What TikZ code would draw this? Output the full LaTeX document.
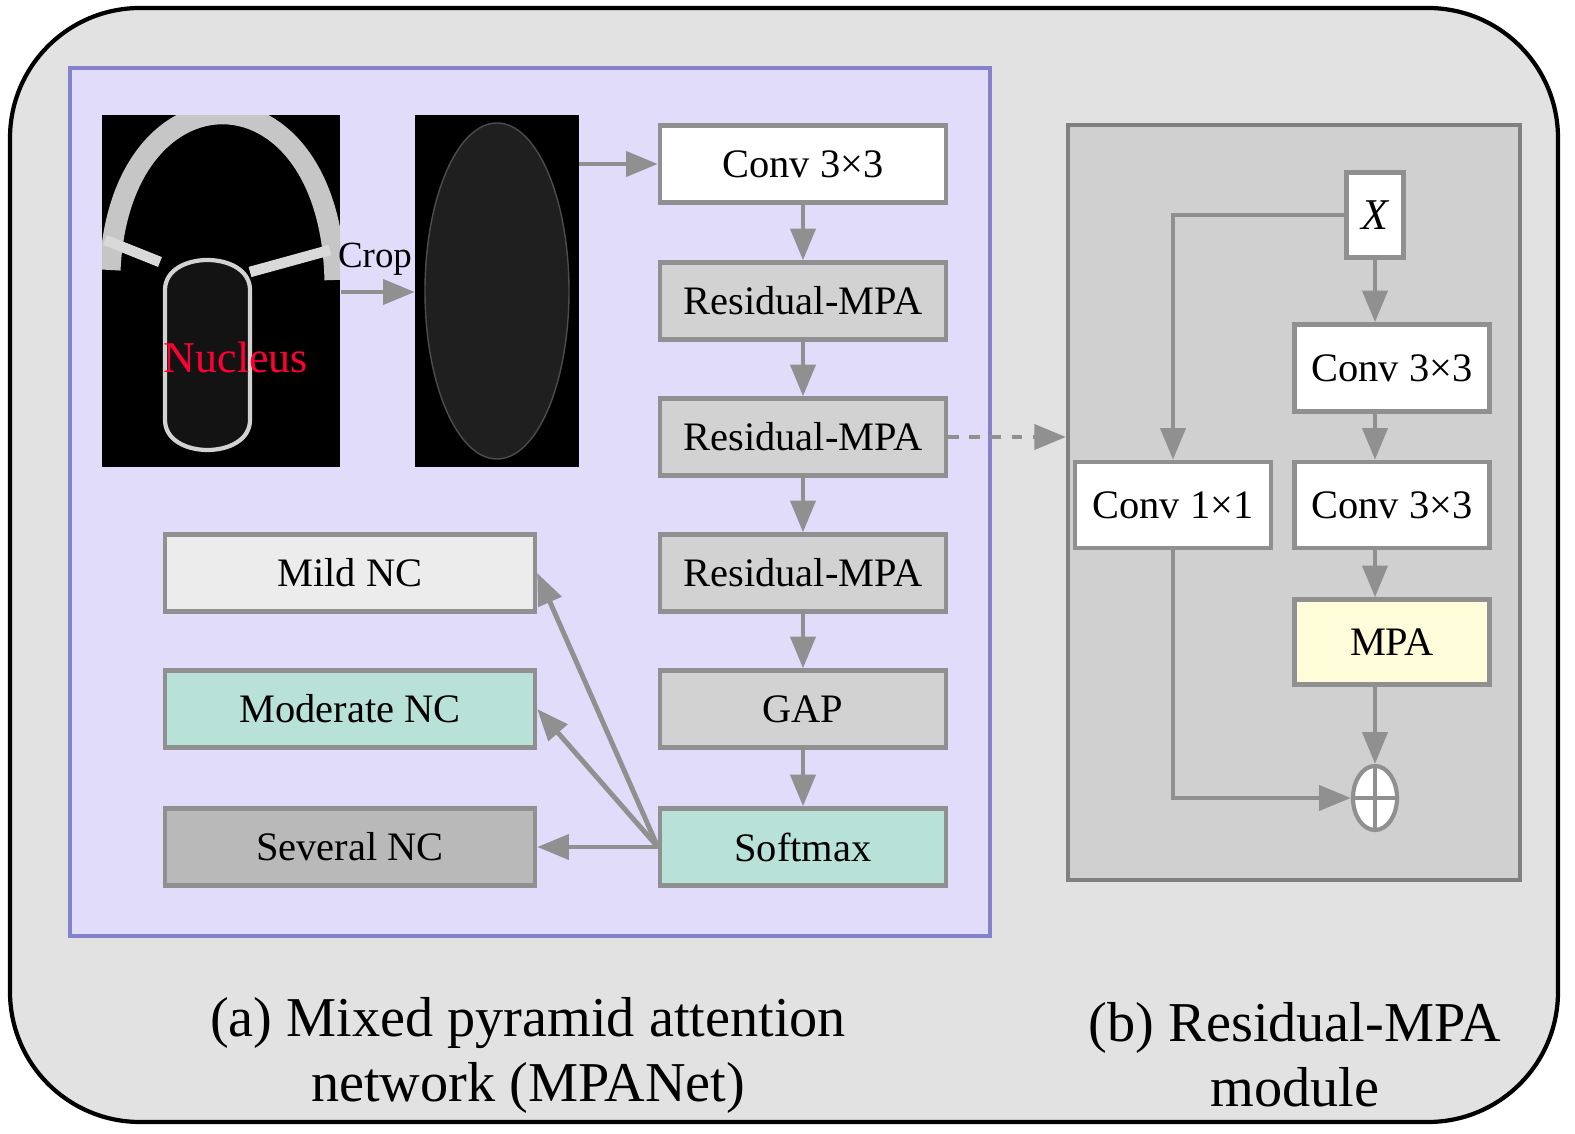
\documentclass[tikz,border=0pt]{standalone}
\usepackage{fontspec}
\setmainfont{Liberation Serif}
\usetikzlibrary{arrows.meta,positioning,shapes.geometric}
\definecolor{panelA}{HTML}{E0DCFA}
\definecolor{panelB}{HTML}{D0D0D0}
\definecolor{outerbg}{HTML}{E2E2E2}
\definecolor{tealbox}{HTML}{B8E2D8}
\definecolor{grybox}{HTML}{D2D2D2}
\definecolor{linegray}{HTML}{909090}
\tikzset{
    %Define standard arrow tip
    >={Triangle[length=9pt,width=7pt]},
    %Define style for boxes
    block/.style={
           rectangle,
           draw=linegray,
           line width=1.2pt,
           minimum width=2.86cm,
           minimum height=0.77cm,
           font=\fontsize{11.5}{11.5}\selectfont,
           text centered},
    cls/.style={block, minimum width=3.7cm},
    % Define arrow style
    arrow/.style={
           ->,
           draw=linegray,
           line width=1.4pt,
           }
}
\begin{document}
\begin{tikzpicture}[x=0.01cm,y=-0.01cm]
    \useasboundingbox (0,0) rectangle (1575,1134);
    % frames
    \draw[line width=1.2pt, fill=outerbg, rounded corners=1.3cm] (10,8) rectangle (1558,1122);
    \draw[draw=panelA!60!blue!60!gray, line width=1pt, fill=panelA] (70,68) rectangle (990,936);
    \draw[draw=gray, line width=1pt, fill=panelB] (1068,125) rectangle (1520,880);

    % images
    \node[fill=black, minimum width=2.38cm, minimum height=3.51cm, inner sep=0pt] (img) at (221,291) {};
    \begin{scope}
        \clip (102,116) rectangle (340,467);
        \draw[gray!45, line width=6pt] (110,270) .. controls (120,60) and (330,60) .. (335,280);
        \draw[gray!30, line width=3pt] (105,240) -- (160,262) (250,272) -- (330,250);
        \draw[gray!35, line width=1.2pt, fill=black!85!gray] (165,290) .. controls (165,250) and (250,250) .. (250,290) -- (250,420) .. controls (250,460) and (165,460) .. (165,420) -- cycle;
    \end{scope}
    \node[text=red!80!magenta, font=\fontsize{12.5}{12.5}\selectfont] (nuc) at (236,357) {Nucleus};
    \node[fill=black, minimum width=1.63cm, minimum height=3.51cm, inner sep=0pt] (crop) at (497,291) {};
    \draw[gray!60!black, fill=black!88!white] (497,291) ellipse (72 and 168);
    \node[font=\fontsize{10.5}{10.5}\selectfont, inner sep=1pt] (croplbl) at (375,259) {Crop};

    % backbone
    \node[block, fill=white] (conv) at (803,164) {Conv 3×3};
    \node[block, fill=grybox] (res1) at (803,301) {Residual-MPA};
    \node[block, fill=grybox] (res2) at (803,437) {Residual-MPA};
    \node[block, fill=grybox] (res3) at (803,573) {Residual-MPA};
    \node[block, fill=grybox] (gap) at (803,709) {GAP};
    \node[block, fill=tealbox] (soft) at (803,847) {Softmax};
    \node[cls, fill=gray!15] (mild) at (350,573) {Mild NC};
    \node[cls, fill=tealbox] (moder) at (350,709) {Moderate NC};
    \node[cls, fill=gray!55] (sev) at (350,847) {Several NC};

    \draw[arrow] (img.east |- 0,292) -- (crop.west |- 0,292);
    \draw[arrow] (crop.east |- conv) -- (conv);
    \foreach \a/\b in {conv/res1, res1/res2, res2/res3, res3/gap, gap/soft}
        \draw[arrow] (\a) -- (\b);
    \draw[arrow] (soft.west) -- (sev.east);
    \draw[arrow] (soft.west) -- (moder.east);
    \draw[arrow] (soft.west) -- (mild.east);
    \draw[arrow, dashed] (res2.east) -- (1066,437);

    % residual module
    \node[block, fill=white, minimum width=0.57cm, minimum height=0.85cm, font=\itshape\fontsize{12.5}{12.5}\selectfont] (x) at (1375,215) {X};
    \node[block, fill=white, minimum width=1.95cm, minimum height=0.87cm] (c3a) at (1392,368) {Conv 3×3};
    \node[block, fill=white, minimum width=1.95cm, minimum height=0.86cm] (c3b) at (1392,505) {Conv 3×3};
    \node[block, fill=yellow!15, minimum width=1.95cm, minimum height=0.85cm] (mpa) at (1392,642) {MPA};
    \node[block, fill=white, minimum width=1.96cm, minimum height=0.86cm] (c1) at (1173,505) {Conv 1×1};
    \node[draw=linegray, line width=1.2pt, fill=white, ellipse, minimum width=0.44cm, minimum height=0.64cm, inner sep=0pt] (sum) at (1375,798) {};
    \draw[linegray, line width=1.2pt] (sum.north) -- (sum.south) (sum.west) -- (sum.east);

    \draw[arrow] (x) -- (x |- c3a.north);
    \draw[arrow] (x |- c3a.south) -- (x |- c3b.north);
    \draw[arrow] (x |- c3b.south) -- (x |- mpa.north);
    \draw[arrow] (x |- mpa.south) -- (sum);
    \draw[arrow] (x.west) -| (c1.north);
    \draw[arrow] (c1.south) |- (sum.west);

    % captions
    \node[align=center, font=\fontsize{16}{18.5}\selectfont] (capa) at (528,1055) {(a) Mixed pyramid attention\\network (MPANet)};
    \node[align=center, font=\fontsize{16}{18.5}\selectfont] (capb) at (1295,1055) {(b) Residual-MPA\\module};
\end{tikzpicture}
\end{document}
